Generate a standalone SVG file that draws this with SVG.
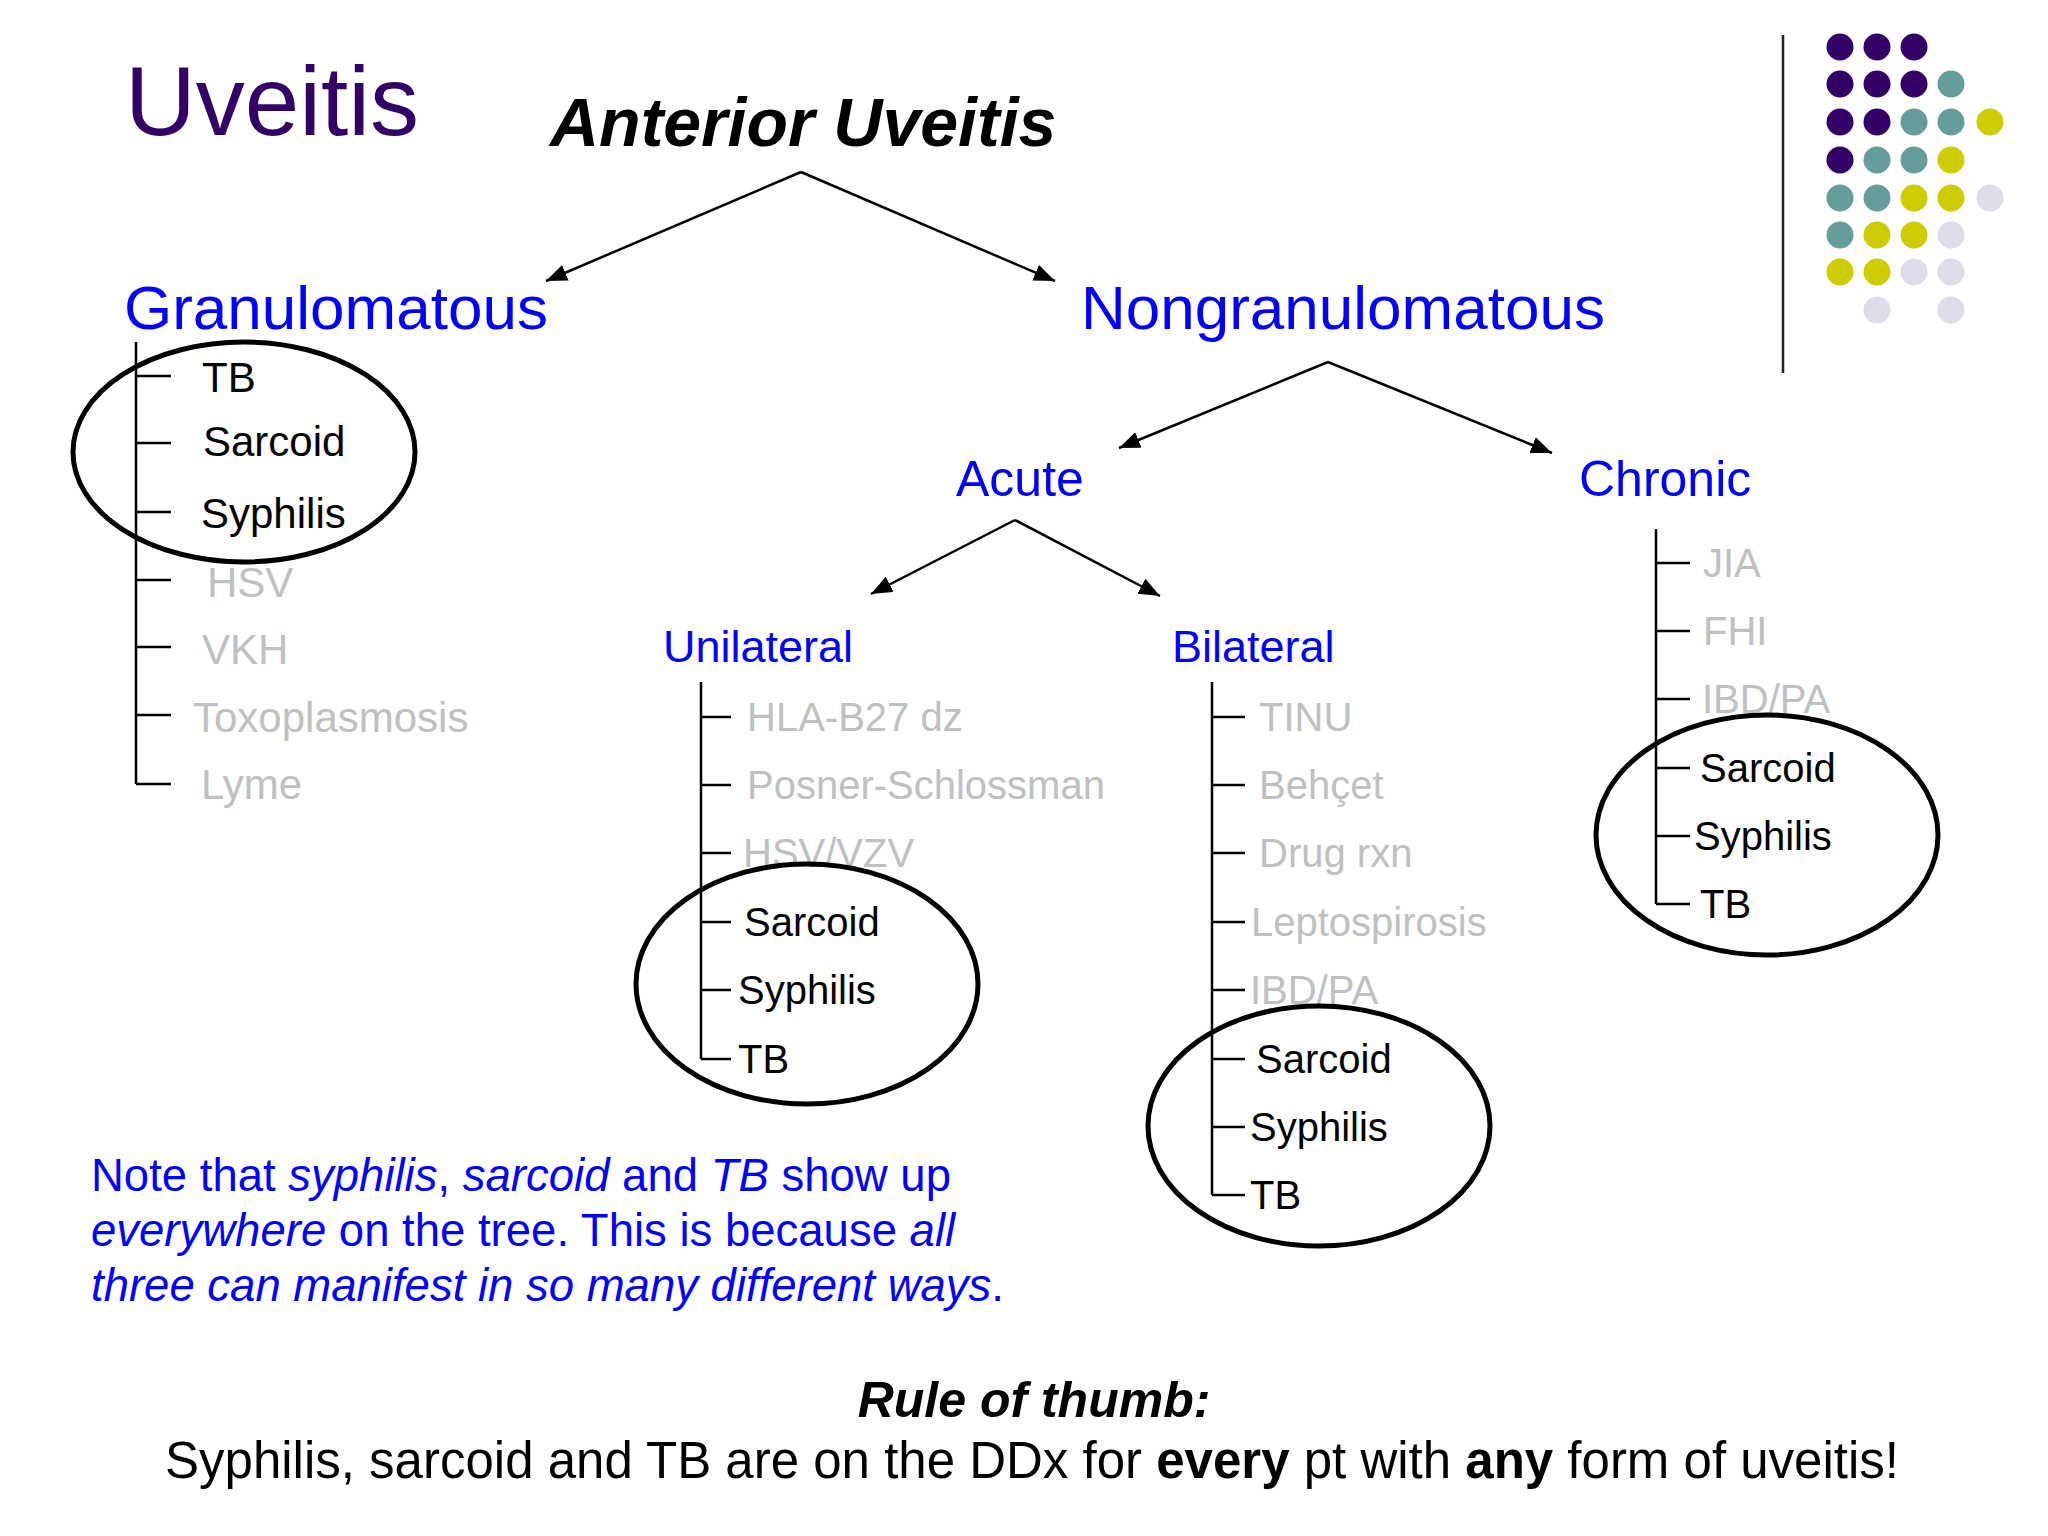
<svg xmlns="http://www.w3.org/2000/svg" width="2048" height="1536" viewBox="0 0 2048 1536">
<defs>
<marker id="ah" markerUnits="userSpaceOnUse" markerWidth="22" markerHeight="18" refX="21" refY="8.5" orient="auto">
<path d="M0,0 L21,8.5 L0,17 z" fill="#000"/>
</marker>
<style>
text{font-family:"Liberation Sans",Arial,sans-serif}
.head{fill:#0000ff}
.k{fill:#000}
.g{fill:#c0c0c0}
.br{stroke:#000;stroke-width:2.5;fill:none}
.arr{stroke:#000;stroke-width:2.5;fill:none;marker-end:url(#ah)}
.ring{stroke:#000;stroke-width:5;fill:none}
.l42{font-size:42px}
.l40{font-size:40px}
.note{font-size:45.5px;fill:#0000ff}
</style>
</defs>
<rect width="2048" height="1536" fill="#fff"/>

<g id="decor">
<line x1="1783" y1="35" x2="1783" y2="373" stroke="#222" stroke-width="2.5"/>
<g fill="#330066">
<circle cx="1840" cy="47" r="13.5"/><circle cx="1877" cy="47" r="13.5"/><circle cx="1914" cy="47" r="13.5"/>
<circle cx="1840" cy="84" r="13.5"/><circle cx="1877" cy="84" r="13.5"/><circle cx="1914" cy="84" r="13.5"/>
<circle cx="1840" cy="122" r="13.5"/><circle cx="1877" cy="122" r="13.5"/>
<circle cx="1840" cy="160" r="13.5"/>
</g>
<g fill="#669d9b">
<circle cx="1951" cy="84" r="13.5"/>
<circle cx="1914" cy="122" r="13.5"/><circle cx="1951" cy="122" r="13.5"/>
<circle cx="1877" cy="160" r="13.5"/><circle cx="1914" cy="160" r="13.5"/>
<circle cx="1840" cy="198" r="13.5"/><circle cx="1877" cy="198" r="13.5"/>
<circle cx="1840" cy="235" r="13.5"/>
</g>
<g fill="#cccc00">
<circle cx="1990" cy="122" r="13.5"/>
<circle cx="1951" cy="160" r="13.5"/>
<circle cx="1914" cy="198" r="13.5"/><circle cx="1951" cy="198" r="13.5"/>
<circle cx="1877" cy="235" r="13.5"/><circle cx="1914" cy="235" r="13.5"/>
<circle cx="1840" cy="272" r="13.5"/><circle cx="1877" cy="272" r="13.5"/>
</g>
<g fill="#dcdceb">
<circle cx="1990" cy="198" r="13.5"/>
<circle cx="1951" cy="235" r="13.5"/>
<circle cx="1914" cy="272" r="13.5"/><circle cx="1951" cy="272" r="13.5"/>
<circle cx="1877" cy="310" r="13.5"/><circle cx="1951" cy="310" r="13.5"/>
</g>
</g>

<g id="title"><text x="125" y="135" font-size="98" fill="#330066">Uveitis</text></g>

<g id="anterior"><text x="550" y="146" font-size="68" font-weight="bold" font-style="italic" class="k">Anterior Uveitis</text></g>

<g id="connectors">
<path class="arr" d="M801,172 L546,281"/>
<path class="arr" d="M801,172 L1055,281"/>
<path class="arr" d="M1328,362 L1119,448"/>
<path class="arr" d="M1328,362 L1552,453"/>
<path class="arr" d="M1015,520 L871,594"/>
<path class="arr" d="M1015,520 L1160,596"/>
</g>

<g id="granulomatous">
<text x="124" y="329" font-size="62" class="head">Granulomatous</text>
<path class="br" d="M136,342 V784 M136,376 H171 M136,443 H171 M136,512 H171 M136,580 H171 M136,647 H171 M136,715 H171 M136,784 H171"/>
<g class="l42">
<text x="202" y="392" class="k">TB</text>
<text x="203" y="456" class="k">Sarcoid</text>
<text x="201" y="528" class="k">Syphilis</text>
<text x="207" y="597" class="g">HSV</text>
<text x="202" y="664" class="g">VKH</text>
<text x="193" y="732" class="g">Toxoplasmosis</text>
<text x="201" y="799" class="g">Lyme</text>
</g>
<ellipse class="ring" cx="244" cy="452" rx="171" ry="110"/>
</g>

<g id="nongranulomatous"><text x="1081" y="329" font-size="62" class="head">Nongranulomatous</text></g>

<g id="acute"><text x="956" y="496" font-size="50" class="head">Acute</text></g>

<g id="chronic">
<text x="1579" y="496" font-size="50" class="head">Chronic</text>
<path class="br" d="M1656,529 V904 M1656,563 H1690 M1656,631 H1690 M1656,699 H1690 M1656,768 H1690 M1656,836 H1690 M1656,904 H1690"/>
<g class="l40">
<text x="1703" y="577" class="g">JIA</text>
<text x="1703" y="645" class="g">FHI</text>
<text x="1702" y="713" class="g">IBD/PA</text>
<text x="1700" y="782" class="k">Sarcoid</text>
<text x="1694" y="850" class="k">Syphilis</text>
<text x="1700" y="918" class="k">TB</text>
</g>
<ellipse class="ring" cx="1767" cy="835" rx="171" ry="120"/>
</g>

<g id="unilateral">
<text x="663" y="662" font-size="45" class="head">Unilateral</text>
<path class="br" d="M701,682 V1059 M701,717 H731 M701,785 H731 M701,853 H731 M701,922 H731 M701,990 H731 M701,1059 H731"/>
<g class="l40">
<text x="747" y="731" class="g">HLA-B27 dz</text>
<text x="747" y="799" class="g">Posner-Schlossman</text>
<text x="743" y="867" class="g">HSV/VZV</text>
<text x="744" y="936" class="k">Sarcoid</text>
<text x="738" y="1004" class="k">Syphilis</text>
<text x="738" y="1073" class="k">TB</text>
</g>
<ellipse class="ring" cx="807" cy="984" rx="171" ry="120"/>
</g>

<g id="bilateral">
<text x="1172" y="662" font-size="45" class="head">Bilateral</text>
<path class="br" d="M1212,682 V1195 M1212,717 H1245 M1212,785 H1245 M1212,853 H1245 M1212,922 H1245 M1212,990 H1245 M1212,1059 H1245 M1212,1127 H1245 M1212,1195 H1245"/>
<g class="l40">
<text x="1259" y="731" class="g">TINU</text>
<text x="1259" y="799" class="g">Behçet</text>
<text x="1259" y="867" class="g">Drug rxn</text>
<text x="1251" y="936" class="g">Leptospirosis</text>
<text x="1250" y="1004" class="g">IBD/PA</text>
<text x="1256" y="1073" class="k">Sarcoid</text>
<text x="1250" y="1141" class="k">Syphilis</text>
<text x="1250" y="1209" class="k">TB</text>
</g>
<ellipse class="ring" cx="1319" cy="1126" rx="171" ry="120"/>
</g>

<g id="note">
<text x="91" y="1191" class="note">Note that <tspan font-style="italic">syphilis</tspan>, <tspan font-style="italic">sarcoid</tspan> and <tspan font-style="italic">TB</tspan> show up</text>
<text x="91" y="1246" class="note"><tspan font-style="italic">everywhere</tspan> on the tree. This is because <tspan font-style="italic">all</tspan></text>
<text x="91" y="1301" class="note"><tspan font-style="italic">three can manifest in so many different ways</tspan>.</text>
</g>

<g id="rule">
<text x="1034" y="1417" font-size="50" font-weight="bold" font-style="italic" text-anchor="middle" class="k">Rule of thumb:</text>
<text x="1032" y="1478" font-size="51" text-anchor="middle" class="k">Syphilis, sarcoid and TB are on the DDx for <tspan font-weight="bold">every</tspan> pt with <tspan font-weight="bold">any</tspan> form of uveitis!</text>
</g>
</svg>
